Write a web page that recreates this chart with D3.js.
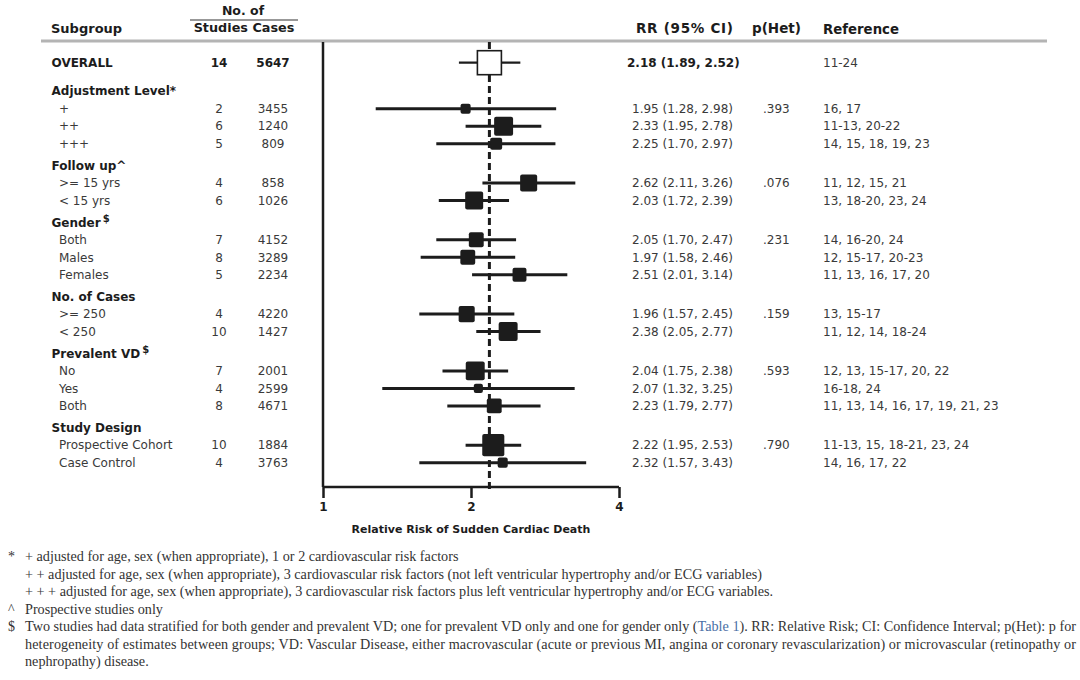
<!DOCTYPE html>
<head>
  <title>Relative Risk of Sudden Cardiac Death by Subgroup</title>
  <style>
    body { margin: 0; background: #fff; }
    text { font-family: "DejaVu Sans", Verdana, sans-serif; }
    .foot { font-family: "Liberation Serif", "DejaVu Serif", serif; }
  </style>
</head>
<body>
  <script src="https://cdn.jsdelivr.net/npm/d3@7/dist/d3.min.js"></script>
  <script>
    // table data, one entry per row (null = group heading row)
    var subgroups = ["OVERALL", "Adjustment Level*", "+", "++", "+++", "Follow up^", ">= 15 yrs", "< 15 yrs",
      "Gender$", "Both", "Males", "Females", "No. of Cases", ">= 250", "< 250",
      "Prevalent VD$", "No", "Yes", "Both", "Study Design", "Prospective Cohort", "Case Control"];
    var studies = [14, null, 2, 6, 5, null, 4, 6, null, 7, 8, 5, null, 4, 10, null, 7, 4, 8, null, 10, 4];
    var cases = [5647, null, 3455, 1240, 809, null, 858, 1026, null, 4152, 3289, 2234, null, 4220, 1427, null, 2001, 2599, 4671, null, 1884, 3763];
    var rr = [2.18, null, 1.95, 2.33, 2.25, null, 2.62, 2.03, null, 2.05, 1.97, 2.51, null, 1.96, 2.38, null, 2.04, 2.07, 2.23, null, 2.22, 2.32];
    var ciLow = [1.89, null, 1.28, 1.95, 1.70, null, 2.11, 1.72, null, 1.70, 1.58, 2.01, null, 1.57, 2.05, null, 1.75, 1.32, 1.79, null, 1.95, 1.57];
    var ciHigh = [2.52, null, 2.98, 2.78, 2.97, null, 3.26, 2.39, null, 2.47, 2.46, 3.14, null, 2.45, 2.77, null, 2.38, 3.25, 2.77, null, 2.53, 3.43];
    // relative box weight (% of overall)
    var boxWeight = [100, null, 42, 79, 50, null, 71, 75, null, 62, 62, 58, null, 67, 79, null, 79, 38, 62, null, 92, 42];
    var pHet = ["", "", ".393", "", "", "", ".076", "", "", ".231", "", "", "", ".159", "", "", ".593", "", "", "", ".790", ""];
    var refs = ["11-24", "", "16, 17", "11-13, 20-22", "14, 15, 18, 19, 23", "", "11, 12, 15, 21", "13, 18-20, 23, 24",
      "", "14, 16-20, 24", "12, 15-17, 20-23", "11, 13, 16, 17, 20", "", "13, 15-17", "11, 12, 14, 18-24",
      "", "12, 13, 15-17, 20, 22", "16-18, 24", "11, 13, 14, 16, 17, 19, 21, 23", "", "11-13, 15, 18-21, 23, 24", "14, 16, 17, 22"];
    var xTicks = [1, 2, 4];
    var footMarks = ["*", "", "", "^", "$", "", ""];
    var footLines = [
      "+ adjusted for age, sex (when appropriate), 1 or 2 cardiovascular risk factors",
      "+ + adjusted for age, sex (when appropriate), 3 cardiovascular risk factors (not left ventricular hypertrophy and/or ECG variables)",
      "+ + + adjusted for age, sex (when appropriate), 3 cardiovascular risk factors plus left ventricular hypertrophy and/or ECG variables.",
      "Prospective studies only",
      "Two studies had data stratified for both gender and prevalent VD; one for prevalent VD only and one for gender only (Table 1). RR: Relative Risk; CI: Confidence Interval; p(Het): p for",
      "heterogeneity of estimates between groups; VD: Vascular Disease, either macrovascular (acute or previous MI, angina or coronary revascularization) or microvascular (retinopathy or",
      "nephropathy) disease."
    ];

    var svg = d3.select("body").append("svg")
        .attr("width", 1080)
        .attr("height", 680);

    // row slots: group headings get a little extra space above them
    var slots = [], s = 0;
    subgroups.forEach(function(d, i) {
      if (i == 1) s += 1.63;
      else if (i > 0) s += (studies[i] == null ? 1.245 : 1);
      slots.push(s);
    });
    var y = d3.scaleLinear().domain([0, 1]).range([62.7, 80.2]);
    var x = d3.scaleLog().base(2).domain([1, 4]).range([323, 619]);
    var box = d3.scaleLinear().domain([0, 100]).range([0, 24]);

    var plotTop = 42, axisY = 487;
    var dark = "#1c1c1c", grey = "#3a3a3a";

    // header
    svg.append("line").attr("x1", 41).attr("x2", 1047).attr("y1", 41).attr("y2", 41)
        .attr("stroke", "#b4b4b4").attr("stroke-width", 3);
    svg.append("line").attr("x1", 190).attr("x2", 298).attr("y1", 20).attr("y2", 20)
        .attr("stroke", "#333").attr("stroke-width", 1.2);
    var hdr = [["Subgroup", 51, 28, "start", 13], ["No. of", 243, 11, "middle", 12.5], ["Studies Cases", 244, 28, "middle", 12.8],
      ["RR (95% CI)", 636, 28, "start", 13.5], ["p(Het)", 752, 28, "start", 13.5], ["Reference", 823, 29, "start", 13.3]];
    svg.selectAll("text.hdr").data(hdr).enter().append("text")
        .attr("class", "hdr")
        .attr("x", function(d) { return d[1]; })
        .attr("y", function(d) { return d[2]; })
        .attr("dy", "0.35em")
        .attr("text-anchor", function(d) { return d[3]; })
        .style("font-size", function(d) { return d[4] + "px"; })
        .style("font-weight", "bold").attr("fill", dark)
        .text(function(d) { return d[0]; });
    svg.selectAll("text.hdr").filter(function(d) { return d[0] == "RR (95% CI)"; })
        .attr("textLength", 97).attr("lengthAdjust", "spacing");

    // left table
    var rows = svg.append("g").selectAll("g").data(subgroups).enter().append("g")
        .attr("transform", function(d, i) { return "translate(0," + y(slots[i]) + ")"; });

    rows.each(function(d, i) {
      var g = d3.select(this);
      var isGroup = studies[i] == null, isOverall = i == 0;
      var bold = isGroup || isOverall;
      var lab = g.append("text")
          .attr("x", bold ? 51.5 : 59)
          .attr("dy", "0.35em")
          .style("font-size", "12px")
          .style("font-weight", bold ? "bold" : "normal")
          .attr("fill", bold ? dark : grey);
      if (d.slice(-1) == "$") {
        lab.append("tspan").text(d.slice(0, -1));
        lab.append("tspan").attr("dx", 2).attr("dy", -5).style("font-size", "10px").text("$");
      } else {
        lab.text(d);
      }
      if (isGroup) return;
      g.append("text").attr("x", 219).attr("dy", "0.35em").attr("text-anchor", "middle")
          .style("font-size", "12px").style("font-weight", bold ? "bold" : "normal")
          .attr("fill", bold ? dark : grey).text(studies[i]);
      g.append("text").attr("x", 273).attr("dy", "0.35em").attr("text-anchor", "middle")
          .style("font-size", "12px").style("font-weight", bold ? "bold" : "normal")
          .attr("fill", bold ? dark : grey).text(cases[i]);
      g.append("text").attr("x", isOverall ? 627 : 632).attr("dy", "0.35em")
          .style("font-size", "12px").style("font-weight", bold ? "bold" : "normal")
          .attr("fill", bold ? dark : grey)
          .text(rr[i].toFixed(2) + " (" + ciLow[i].toFixed(2) + ", " + ciHigh[i].toFixed(2) + ")");
      g.append("text").attr("x", 763).attr("dy", "0.35em")
          .style("font-size", "12px").attr("fill", grey).text(pHet[i]);
      g.append("text").attr("x", 823).attr("dy", "0.35em")
          .style("font-size", "12px").attr("fill", grey).text(refs[i]);
    });

    // reference line at overall estimate
    svg.append("line")
        .attr("x1", x(rr[0])).attr("x2", x(rr[0]))
        .attr("y1", plotTop).attr("y2", axisY + 3)
        .attr("stroke", dark).attr("stroke-width", 3)
        .attr("stroke-dasharray", "7,4");

    // whiskers and boxes
    var marks = subgroups.map(function(d, i) { return i; }).filter(function(i) { return rr[i] != null; });
    svg.append("g").selectAll("line").data(marks).enter().append("line")
        .attr("x1", function(i) { return x(ciLow[i]); })
        .attr("x2", function(i) { return x(ciHigh[i]); })
        .attr("y1", function(i) { return y(slots[i]); })
        .attr("y2", function(i) { return y(slots[i]); })
        .attr("stroke", dark)
        .attr("stroke-width", function(i) { return i == 0 ? 2.2 : 3; });
    svg.append("g").selectAll("rect").data(marks).enter().append("rect")
        .attr("x", function(i) { return x(rr[i]) - box(boxWeight[i]) / 2; })
        .attr("y", function(i) { return y(slots[i]) - box(boxWeight[i]) / 2; })
        .attr("width", function(i) { return box(boxWeight[i]); })
        .attr("height", function(i) { return box(boxWeight[i]); })
        .attr("rx", function(i) { return i == 0 ? 0 : 2; })
        .attr("fill", function(i) { return i == 0 ? "#fff" : dark; })
        .attr("stroke", dark)
        .attr("stroke-width", function(i) { return i == 0 ? 1.6 : 0; });

    // axes
    svg.append("line").attr("x1", x(1)).attr("x2", x(1)).attr("y1", plotTop).attr("y2", axisY)
        .attr("stroke", dark).attr("stroke-width", 2.5);
    var xAxis = svg.append("g").attr("transform", "translate(0," + axisY + ")")
        .call(d3.axisBottom(x).tickValues(xTicks).tickFormat(d3.format("d")).tickSize(11).tickPadding(4));
    xAxis.select(".domain").attr("stroke", dark).attr("stroke-width", 2.5)
        .attr("d", "M" + x(1) + ",0H" + x(4));
    xAxis.selectAll(".tick line").attr("stroke", dark).attr("stroke-width", 2.5);
    xAxis.selectAll(".tick text").style("font-size", "12px").style("font-weight", "bold")
        .style("font-family", "DejaVu Sans").attr("fill", dark);
    svg.append("text")
        .attr("x", (x(1) + x(4)) / 2)
        .attr("y", 529).attr("dy", "0.35em")
        .attr("text-anchor", "middle")
        .style("font-size", "11px").style("font-weight", "bold").attr("fill", dark)
        .text("Relative Risk of Sudden Cardiac Death");

    // footnotes
    var fy = d3.scaleLinear().domain([0, 1]).range([556.5, 574]);
    svg.selectAll("text.fm").data(footMarks).enter().append("text")
        .attr("class", "foot fm")
        .attr("x", 8).attr("y", function(d, i) { return fy(i); }).attr("dy", "0.35em")
        .style("font-size", "14px").attr("fill", "#333")
        .text(function(d) { return d; });
    svg.selectAll("text.fl").data(footLines).enter().append("text")
        .attr("class", "foot fl")
        .attr("x", 25).attr("y", function(d, i) { return fy(i); }).attr("dy", "0.35em")
        .style("font-size", "14.2px").attr("fill", "#333")
        .each(function(d, i) {
          var t = d3.select(this);
          // the two justified lines run to the right margin
          if (i == 4 || i == 5) t.attr("textLength", 1051).attr("lengthAdjust", "spacing");
          var k = d.indexOf("Table 1");
          if (k < 0) { t.text(d); return; }
          t.append("tspan").text(d.slice(0, k));
          t.append("tspan").attr("fill", "#4a6fa5").text("Table 1");
          t.append("tspan").text(d.slice(k + 7));
        });
  </script>
</body>
